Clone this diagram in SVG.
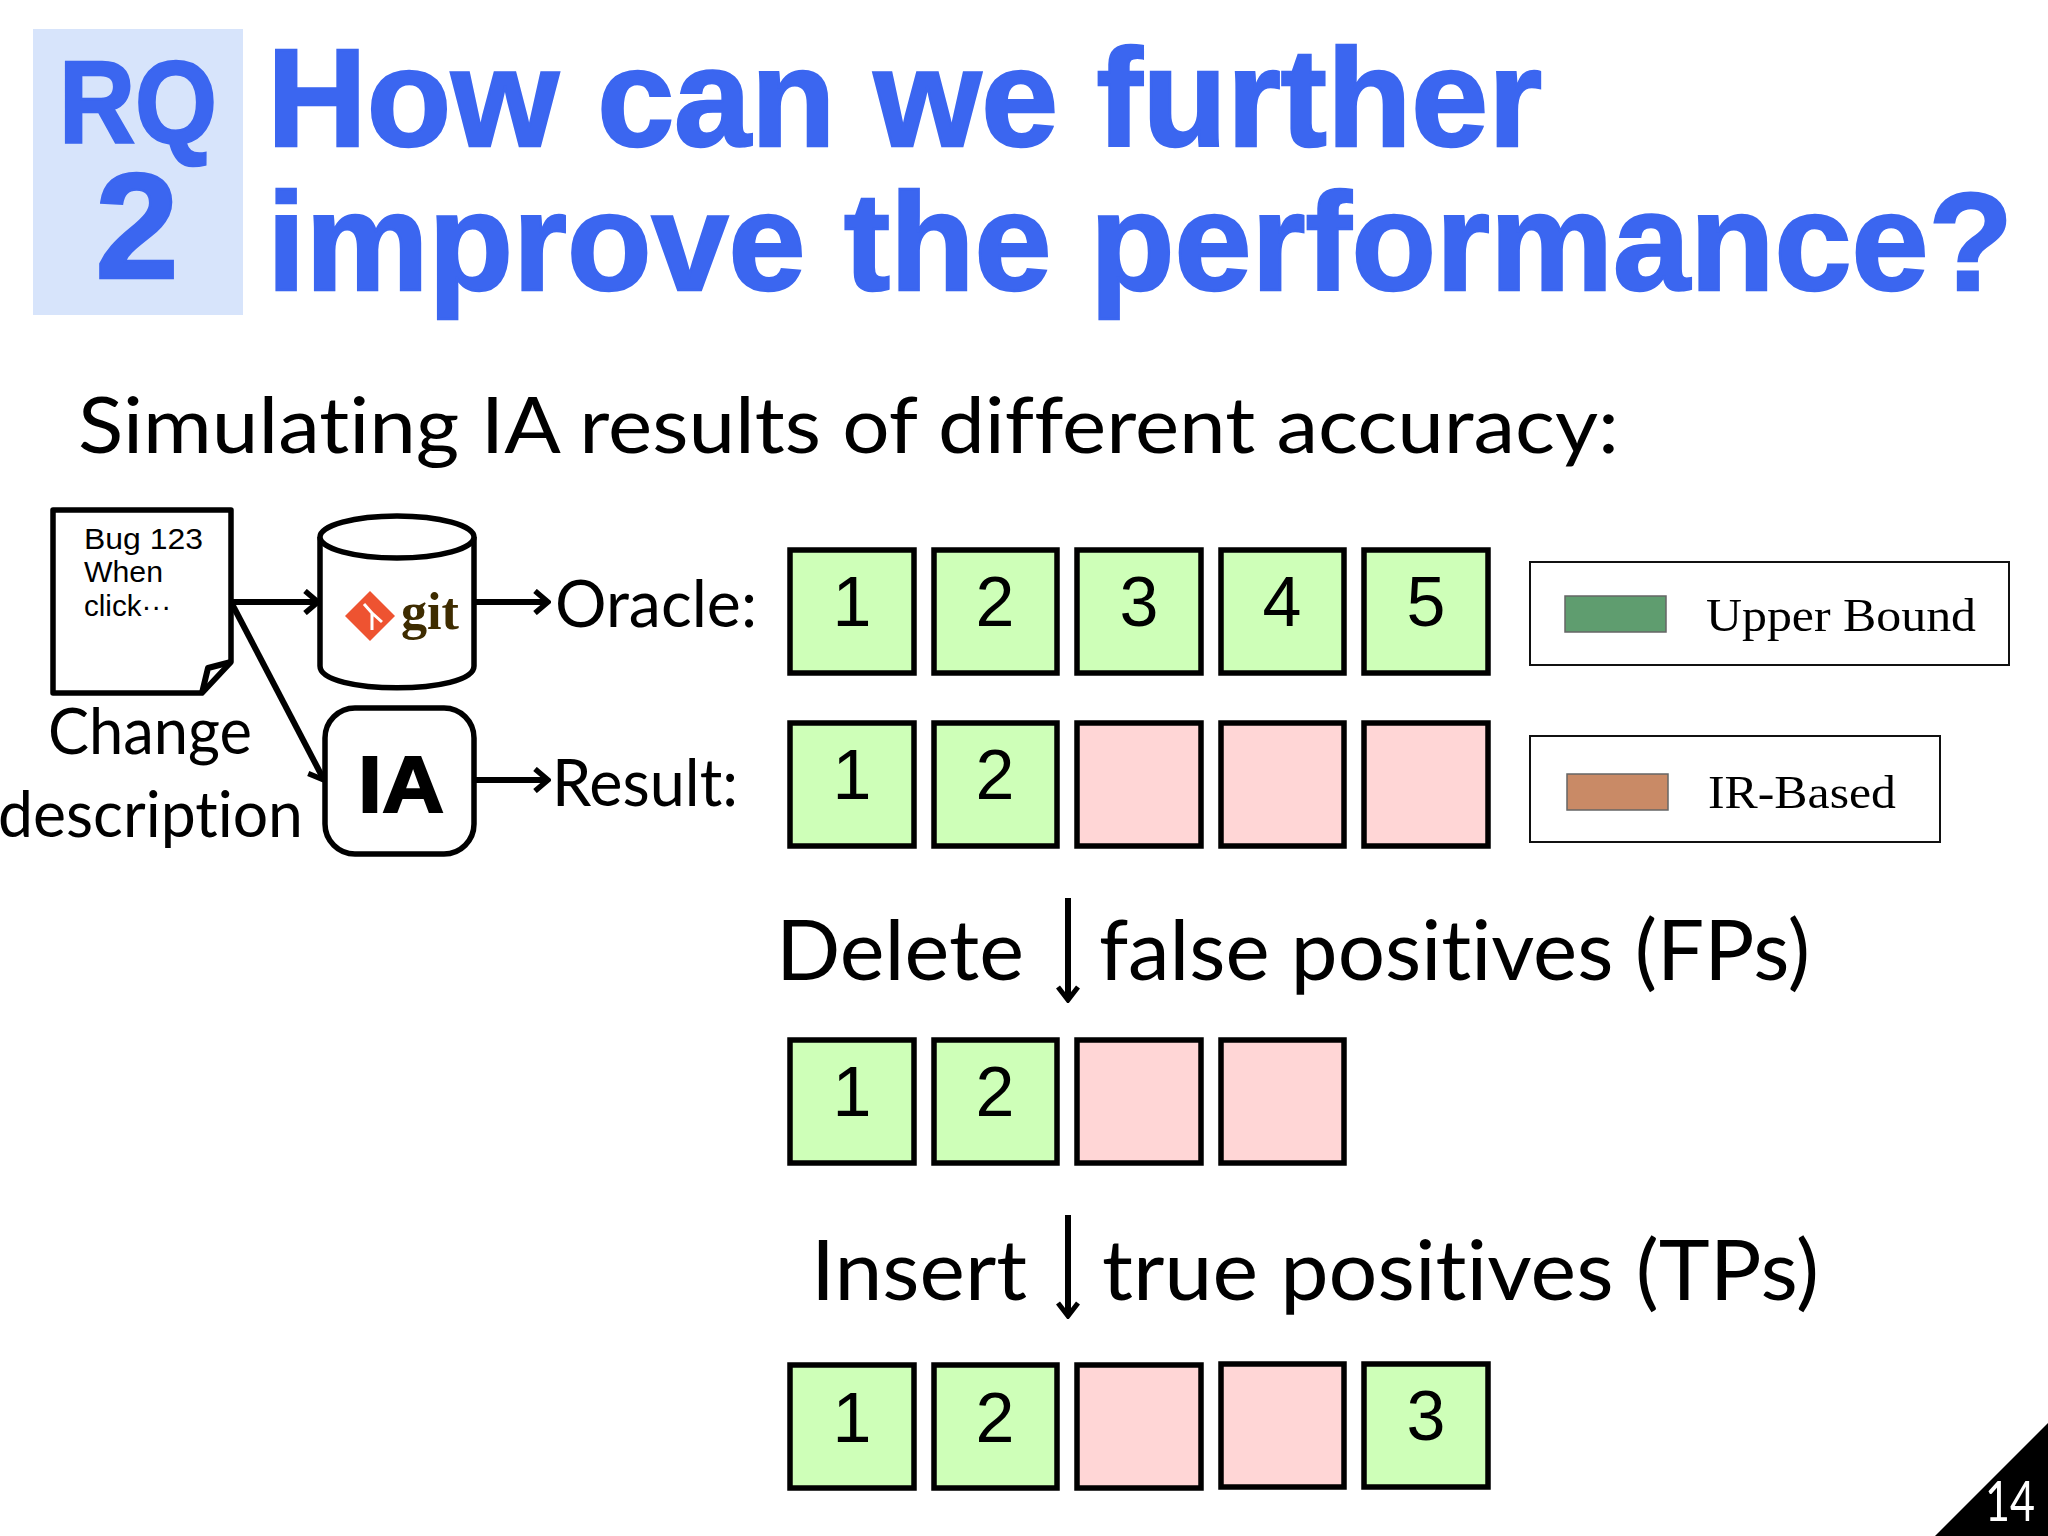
<svg xmlns="http://www.w3.org/2000/svg" width="2048" height="1536" viewBox="0 0 2048 1536">
<style>
.t{font-family:"Liberation Sans",Arial,sans-serif;font-weight:700;fill:#3b66f0;stroke:#3b66f0;stroke-width:2.5px}
.g{font-family:Lato,"Noto Sans",sans-serif;fill:#000;font-variant-ligatures:none}
.n{font-family:"Liberation Sans",Arial,sans-serif;font-size:70px;fill:#000;text-anchor:middle}
.s{font-family:"Liberation Serif","Times New Roman",serif;font-size:47px;fill:#000}
.b{font-family:"Liberation Sans",Arial,sans-serif;font-size:30px;fill:#000}
.ok{fill:#ceffb8;stroke:#000;stroke-width:5.5}
.no{fill:#ffd6d6;stroke:#000;stroke-width:5.5}
.ln{fill:none;stroke:#000;stroke-width:6;stroke-linejoin:round}
.shape{fill:#fff;stroke:#000;stroke-width:5.5;stroke-linejoin:round}
.lg{fill:#fff;stroke:#111;stroke-width:2}
</style>
<defs>
<marker id="a" viewBox="0 0 20 26" markerWidth="20" markerHeight="26" refX="17" refY="13" orient="auto" markerUnits="userSpaceOnUse"><path d="M4 2L17 13L4 24" fill="none" stroke="#000" stroke-width="5.5"/></marker>
<marker id="d" viewBox="0 0 24 20" markerWidth="24" markerHeight="20" refX="12" refY="17" orient="0" markerUnits="userSpaceOnUse"><path d="M2 4L12 17L22 4" fill="none" stroke="#000" stroke-width="5"/></marker>
</defs>
<rect width="2048" height="1536" fill="#fff"/>
<g id="title">
<rect x="33" y="29" width="210" height="286" fill="#d7e4fb"/>
<text class="t" x="59" y="143" font-size="116" textLength="158" lengthAdjust="spacingAndGlyphs">RQ</text>
<text class="t" x="137" y="278" font-size="150" text-anchor="middle">2</text>
<text class="t" x="267" y="146" font-size="140" textLength="1275" lengthAdjust="spacingAndGlyphs">How can we further</text>
<text class="t" x="267" y="290" font-size="140" textLength="1746" lengthAdjust="spacingAndGlyphs">improve the performance?</text>
</g>
<text class="g" x="78" y="453" font-size="78" textLength="1541" lengthAdjust="spacingAndGlyphs">Simulating IA results of different accuracy:</text>
<g id="connectors">
<path class="ln" d="M231 602H318" marker-end="url(#a)"/>
<path class="ln" d="M231 602L324 780" marker-end="url(#a)"/>
<path class="ln" d="M474 602H548" marker-end="url(#a)"/>
<path class="ln" d="M474 780H548" marker-end="url(#a)"/>
<path class="ln" d="M1068 898V1000" marker-end="url(#d)"/>
<path class="ln" d="M1068 1215V1316" marker-end="url(#d)"/>
</g>
<g id="doc">
<path class="shape" d="M53 510H231V662L202 693H53Z"/>
<path class="ln" d="M231 662L208 668L202 693"/>
<text class="b" x="84" y="549" textLength="119" lengthAdjust="spacingAndGlyphs">Bug 123</text>
<text class="b" x="84" y="582" textLength="79" lengthAdjust="spacingAndGlyphs">When</text>
<text class="b" x="84" y="616" textLength="87" lengthAdjust="spacingAndGlyphs">click···</text>
<text class="g" x="150" y="754" font-size="64" text-anchor="middle" textLength="204" lengthAdjust="spacingAndGlyphs">Change</text>
<text class="g" x="-2" y="837" font-size="64" textLength="305" lengthAdjust="spacingAndGlyphs">description</text>
</g>
<g id="git">
<path class="shape" d="M320 537V666C320 695 474 695 474 666V537"/>
<ellipse class="shape" cx="397" cy="537" rx="77" ry="21"/>
<path d="M370 591L395 616L370 641L345 616Z" fill="#ee5331"/>
<path d="M364 604L372 613V630M372 613L382 622" fill="none" stroke="#fff" stroke-width="3"/>
<text x="401" y="629" font-family="Liberation Serif,serif" font-weight="700" font-size="52" fill="#3e2c00" textLength="58" lengthAdjust="spacingAndGlyphs">git</text>
</g>
<g id="ia">
<rect class="shape" x="325" y="708" width="149" height="146" rx="30"/>
<text x="401" y="812" font-family="Liberation Sans,Arial,sans-serif" font-weight="700" font-size="80" text-anchor="middle" textLength="86" lengthAdjust="spacingAndGlyphs" stroke="#000" stroke-width="2">IA</text>
</g>
<text class="g" x="555" y="627" font-size="66" textLength="202" lengthAdjust="spacingAndGlyphs">Oracle:</text>
<text class="g" x="552" y="806" font-size="66" textLength="186" lengthAdjust="spacingAndGlyphs">Result:</text>
<g id="row-oracle">
<rect class="ok" x="790" y="550" width="124" height="123"/><rect class="ok" x="934" y="550" width="123" height="123"/><rect class="ok" x="1077" y="550" width="124" height="123"/><rect class="ok" x="1221" y="550" width="123" height="123"/><rect class="ok" x="1364" y="550" width="124" height="123"/>
<text class="n" x="852" y="626">1</text><text class="n" x="995" y="626">2</text><text class="n" x="1139" y="626">3</text><text class="n" x="1282" y="626">4</text><text class="n" x="1426" y="626">5</text>
</g>
<g id="row-result">
<rect class="ok" x="790" y="723" width="124" height="123"/><rect class="ok" x="934" y="723" width="123" height="123"/><rect class="no" x="1077" y="723" width="124" height="123"/><rect class="no" x="1221" y="723" width="123" height="123"/><rect class="no" x="1364" y="723" width="124" height="123"/>
<text class="n" x="852" y="799">1</text><text class="n" x="995" y="799">2</text>
</g>
<text class="g" x="776" y="980" font-size="84" textLength="248" lengthAdjust="spacingAndGlyphs">Delete</text>
<text class="g" x="1099" y="980" font-size="84" textLength="711" lengthAdjust="spacingAndGlyphs">false positives (FPs)</text>
<g id="row-delete">
<rect class="ok" x="790" y="1040" width="124" height="123"/><rect class="ok" x="934" y="1040" width="123" height="123"/><rect class="no" x="1077" y="1040" width="124" height="123"/><rect class="no" x="1221" y="1040" width="123" height="123"/>
<text class="n" x="852" y="1116">1</text><text class="n" x="995" y="1116">2</text>
</g>
<text class="g" x="811" y="1300" font-size="84" textLength="216" lengthAdjust="spacingAndGlyphs">Insert</text>
<text class="g" x="1102" y="1300" font-size="84" textLength="717" lengthAdjust="spacingAndGlyphs">true positives (TPs)</text>
<g id="row-insert">
<rect class="ok" x="790" y="1365" width="124" height="123"/><rect class="ok" x="934" y="1365" width="123" height="123"/><rect class="no" x="1077" y="1365" width="124" height="123"/><rect class="no" x="1221" y="1364" width="123" height="123"/><rect class="ok" x="1364" y="1364" width="124" height="123"/>
<text class="n" x="852" y="1442">1</text><text class="n" x="995" y="1442">2</text><text class="n" x="1426" y="1440">3</text>
</g>
<g id="legend-upper">
<rect class="lg" x="1530" y="562" width="479" height="103"/>
<rect x="1565" y="596" width="101" height="36" fill="#5f9d6f" stroke="#666" stroke-width="1.5"/>
<text class="s" x="1706" y="631" textLength="270" lengthAdjust="spacingAndGlyphs">Upper Bound</text>
</g>
<g id="legend-ir">
<rect class="lg" x="1530" y="736" width="410" height="106"/>
<rect x="1567" y="774" width="101" height="36" fill="#c98a66" stroke="#666" stroke-width="1.5"/>
<text class="s" x="1708" y="808" textLength="188" lengthAdjust="spacingAndGlyphs">IR-Based</text>
</g>
<g id="page">
<path d="M1935 1536L2048 1423V1536Z" fill="#000"/>
<text class="g" x="1985" y="1521" font-size="56" style="fill:#fff" textLength="50" lengthAdjust="spacingAndGlyphs">14</text>
</g>
</svg>
